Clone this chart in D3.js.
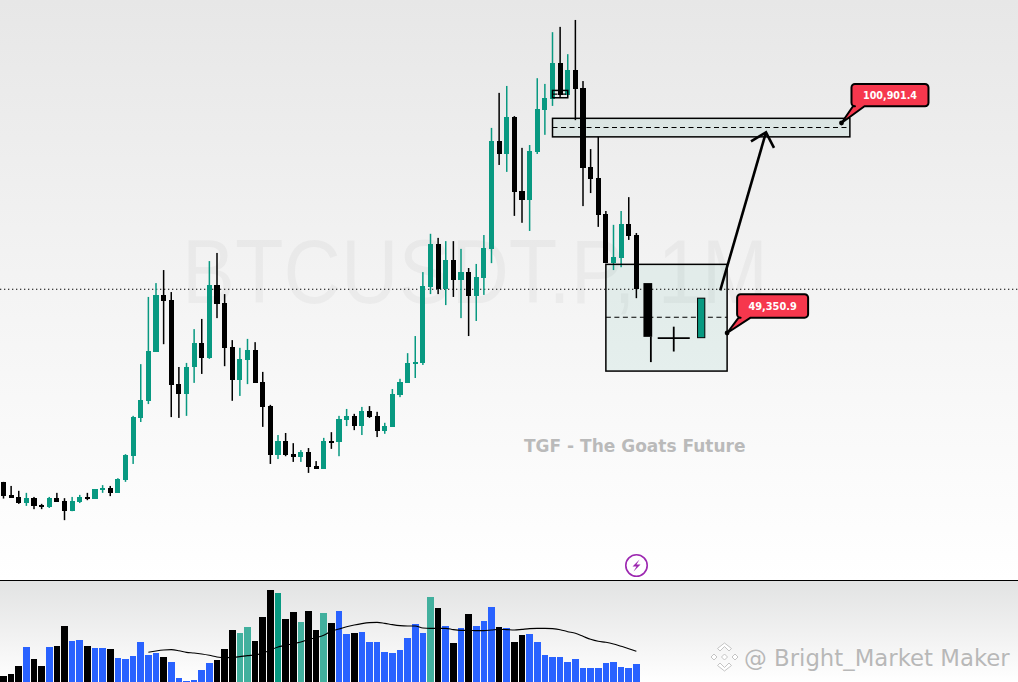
<!DOCTYPE html>
<html><head><meta charset="utf-8">
<style>html,body{margin:0;padding:0;background:#fff;overflow:hidden}svg{display:block}</style>
<script src="https://cdn.jsdelivr.net/npm/d3@7/dist/d3.min.js"></script></head>
<body><svg id="c" width="1018" height="682"></svg>
<script>
// Prices in thousands of USD, one entry per monthly candle
const opens=[12.8,9.6,9.1,7.6,8.8,7.1,6.6,8.8,8.1,5.6,7.9,9.1,8.6,10.8,11.3,10.1,13.3,19.1,28.5,32.7,44.7,58.7,57.4,36.8,34.4,41.0,46.9,43.2,61.1,56.7,45.9,37.8,42.7,45.2,37.3,31.4,19.4,22.8,19.6,18.9,20.1,16.7,16.0,22.8,22.6,28.0,29.0,26.5,30.2,29.0,25.3,26.3,34.1,37.1,41.7,42.0,60.6,71.2,60.1,67.3,62.4,64.3,58.4,62.8,70.0,96.5,93.3,102.4,84.2,82.0,93.8,104.1,106.8,115.6,107.8,113.9,109.5,90.1,87.4,78.6,66.5,67.8,76.1,73.4];
const closes=[9.4,8.9,7.6,8.8,6.9,6.6,8.8,7.9,5.6,8.1,9.1,8.6,11.0,11.3,10.1,13.5,19.4,28.7,32.9,44.9,58.7,57.2,36.6,34.4,41.0,46.9,43.2,61.1,56.5,45.7,37.8,43.0,45.2,37.1,31.2,19.4,22.8,19.4,18.9,20.1,16.4,16.0,22.8,22.6,28.2,29.0,26.5,30.2,28.7,25.3,26.5,34.4,37.3,42.0,42.2,60.9,71.2,60.1,67.3,62.4,64.3,58.4,63.1,70.2,96.5,93.3,102.4,84.0,82.0,94.0,104.3,107.0,115.6,107.8,113.9,109.2,89.9,87.2,78.3,66.5,68.0,76.1,73.2,60.1];
const highs=[12.8,11.8,10.6,10.1,9.1,7.4,9.1,10.1,8.8,9.1,9.6,10.1,11.0,12.0,11.8,13.7,19.6,29.0,41.7,58.2,61.6,64.8,59.4,41.0,42.0,50.3,52.8,67.0,69.0,58.9,47.6,45.7,47.9,47.1,39.8,31.7,24.3,24.8,22.3,20.6,21.1,17.9,23.6,25.0,29.0,30.7,29.5,31.2,31.4,30.0,27.3,35.6,38.1,44.4,48.6,64.3,73.7,72.7,71.9,71.9,70.0,65.3,66.3,73.4,99.7,108.3,110.0,102.6,94.8,95.5,111.9,110.5,123.2,124.5,117.8,126.2,111.2,94.5,97.5,79.3,75.9,79.3,82.7,73.9];
const lows=[8.7,8.9,7.4,6.9,6.1,6.1,6.4,7.9,3.4,5.6,7.6,8.3,8.6,10.1,9.3,10.1,12.8,17.2,27.5,31.9,44.7,46.6,28.7,28.5,29.0,37.1,39.3,43.0,53.0,41.2,32.7,33.9,36.8,37.1,26.3,17.2,18.4,19.1,17.7,17.7,15.0,16.0,16.0,20.9,19.1,26.5,25.5,24.3,28.5,23.8,24.6,26.3,33.6,37.1,38.3,41.5,58.9,58.9,56.2,58.2,53.0,48.6,52.3,58.7,66.5,90.6,88.9,78.1,76.4,74.4,93.3,98.0,105.1,107.3,107.8,101.6,80.5,83.7,75.4,66.5,64.8,65.5,72.2,57.9];
// Volume pane
const volumes=[18,24,48,105,69,48,105,108,168,123,126,108,102,102,99,72,69,78,120,81,87,75,60,12,3,6,36,57,66,99,156,147,165,123,195,276,267,189,210,180,213,156,207,177,213,144,147,150,120,120,90,87,96,132,174,147,255,222,168,117,162,204,168,183,225,165,162,120,141,144,120,81,75,75,60,69,42,42,42,57,60,45,42,54];
const volumeKinds="kkkbkkbkkbbkbbkbbbbbbkbbbbbbkkkttkkkTkktkktkbbkbbbbbbbbbtkbkbkbbbkbkkbbbbbbbbbbbbbbb".split("");
const maStart=19;
const volumeMA=[89,93,96,97,94,89,87,84,80,75,73,74,76,79,81,86,96,105,110,115,120,128,133,140,153,159,166,171,175,178,179,176,172,169,168,168,162,161,161,161,157,155,155,154,154,156,158,157,156,158,160,161,161,160,157,151,146,137,128,122,119,114,107,100,92];
// Projected candles inside the lower box
const projected=[
 {i:84.5,o:61.6,c:48.4,w:1.15},
 {i:91.5,o:48.2,c:57.9,w:0.95}];
const projectedWick={i:84.9,top:48.4,bottom:42.2};
const cross={i:87.9,half:2.1,price:48.1,high:50.9,low:44.8};
// Zones and annotations
const lowerZone={from:79,to:94.9,top:66.2,bottom:40.0,mid:53.2};
const upperZone={from:72,to:111,top:102.05,bottom:97.5,mid:99.8};
const smallZone={from:72,to:74,top:108.9,bottom:107.1,mid:108.0};
const levelLine=60.07;
const arrow={i0:94,p0:59.8,i1:100,p1:98.6};
const targets=[{i:109.9,price:100.9014,text:"100,901.4"},{i:94.9,price:49.3509,text:"49,350.9"}];
const titleText="BTCUSDT.P, 1M", brandText="TGF - The Goats Future", creditText="@ Bright_Market Maker";

const GREEN="#089981",BLUE="#2962ff",LIGHT="#42b09e",RED="#f6374d";
const svg=d3.select("#c");
const x=d3.scaleLinear().domain([0,100]).range([3.5,766]);
const y=d3.scaleLinear().domain([0,131.1]).range([534,0]);
const vy=d3.scaleLinear().domain([0,276]).range([682,590]);

const defs=svg.append("defs");
function grad(id,stops){const g=defs.append("linearGradient").attr("id",id).attr("x1",0).attr("x2",0).attr("y1",0).attr("y2",1);
 stops.forEach(s=>g.append("stop").attr("offset",s[0]).attr("stop-color",s[1]));}
grad("bgTop",[[0,"#e7e7e7"],[0.55,"#f5f5f5"],[1,"#ffffff"]]);
grad("bgVol",[[0,"#e2e3e3"],[0.6,"#f3f3f3"],[1,"#ffffff"]]);
svg.append("rect").attr("width",1018).attr("height",581).attr("fill","url(#bgTop)");
svg.append("rect").attr("y",581).attr("width",1018).attr("height",101).attr("fill","url(#bgVol)");

// Watermark
svg.append("text").attr("x",182).attr("y",303)
 .attr("textLength",586).attr("lengthAdjust","spacingAndGlyphs")
 .attr("font-family","'Liberation Sans',sans-serif").attr("font-size",91)
 .attr("fill","#000").attr("fill-opacity",0.035).text(titleText);

// Zones
[upperZone,lowerZone].forEach(z=>{
 svg.append("rect").attr("x",x(z.from)).attr("y",y(z.top)).attr("width",x(z.to)-x(z.from)).attr("height",y(z.bottom)-y(z.top))
  .attr("fill","rgb(30,156,131)").attr("fill-opacity",0.08).attr("stroke","none");
});

// Level line
svg.append("line").attr("x1",0).attr("x2",1018).attr("y1",y(levelLine)).attr("y2",y(levelLine))
 .attr("stroke","#000").attr("stroke-width",1.1).attr("stroke-dasharray","1.3 2.7");

// Candles
const idx=d3.range(opens.length);
const col=i=>closes[i]>=opens[i]?GREEN:"#000";
svg.append("g").selectAll("rect.w").data(idx).join("rect")
 .attr("x",i=>x(i)-0.75).attr("width",1.5).attr("y",i=>y(highs[i])).attr("height",i=>y(lows[i])-y(highs[i])).attr("fill",col);
svg.append("g").attr("shape-rendering","crispEdges").selectAll("rect.b").data(idx).join("rect")
 .attr("x",i=>x(i)-2.6).attr("width",5.2)
 .attr("y",i=>y(Math.max(opens[i],closes[i])))
 .attr("height",i=>Math.max(1.5,Math.abs(y(opens[i])-y(closes[i])))).attr("fill",col);

// Zone outlines and dashed mid lines
[upperZone,lowerZone,smallZone].forEach(z=>{
 const g=svg.append("g");
 g.append("rect").attr("x",x(z.from)).attr("y",y(z.top)).attr("width",x(z.to)-x(z.from)).attr("height",y(z.bottom)-y(z.top))
  .attr("fill","none").attr("stroke","#000").attr("stroke-width",1.5);
 g.append("line").attr("x1",x(z.from)).attr("x2",x(z.to)).attr("y1",y(z.mid)).attr("y2",y(z.mid))
  .attr("stroke","#000").attr("stroke-width",1.1).attr("stroke-dasharray","5 3.5");
});

// Projected candles
svg.append("rect").attr("x",x(projectedWick.i)-0.9).attr("width",1.8).attr("y",y(projectedWick.top)).attr("height",y(projectedWick.bottom)-y(projectedWick.top)).attr("fill","#000");
projected.forEach(p=>{
 const w=x(p.w)-x(0);
 svg.append("rect").attr("x",x(p.i)-w/2).attr("width",w).attr("y",y(Math.max(p.o,p.c))).attr("height",Math.abs(y(p.o)-y(p.c)))
  .attr("fill",p.c>p.o?GREEN:"#000").attr("stroke",p.c>p.o?"#000":"none").attr("stroke-width",1);
});
const cw=x(cross.half)-x(0);
svg.append("line").attr("x1",x(cross.i)-cw).attr("x2",x(cross.i)+cw).attr("y1",y(cross.price)).attr("y2",y(cross.price)).attr("stroke","#000").attr("stroke-width",1.8);
svg.append("line").attr("x1",x(cross.i)).attr("x2",x(cross.i)).attr("y1",y(cross.high)).attr("y2",y(cross.low)).attr("stroke","#000").attr("stroke-width",1.8);

// Arrow
const ax0=x(arrow.i0),ay0=y(arrow.p0),ax1=x(arrow.i1),ay1=y(arrow.p1);
const arrowLine=d3.line();
svg.append("path").attr("d",arrowLine([[ax0,ay0],[ax1,ay1]])).attr("fill","none").attr("stroke","#000").attr("stroke-width",2.6);
svg.append("path").attr("d",arrowLine([[ax1-15,ay1+9],[ax1,ay1],[ax1+8,ay1+15.5]])).attr("fill","none").attr("stroke","#000").attr("stroke-width",2.6);

// Callouts
function callout(t,i){
 const px=x(t.i),py=y(t.price);
 const w=i===0?77:71,h=i===0?22.3:23.4;
 const bx=px+10,by=py-(i===0?39:38.7),r=3.5;
 const tailA=bx+1.5,tailB=bx+(i===0?13:13.5);
 const p=d3.path();
 p.moveTo(bx+r,by);p.lineTo(bx+w-r,by);p.arcTo(bx+w,by,bx+w,by+r,r);
 p.lineTo(bx+w,by+h-r);p.arcTo(bx+w,by+h,bx+w-r,by+h,r);
 p.lineTo(tailB,by+h);p.lineTo(px,py);p.lineTo(tailA,by+h);p.lineTo(bx+r,by+h);
 p.arcTo(bx,by+h,bx,by+h-r,r);p.lineTo(bx,by+r);p.arcTo(bx,by,bx+r,by,r);p.closePath();
 svg.append("path").attr("d",p.toString()).attr("fill",RED).attr("stroke","#000").attr("stroke-width",2).attr("stroke-linejoin","round");
 svg.append("circle").attr("cx",px).attr("cy",py).attr("r",2.4).attr("fill","#000");
 svg.append("text").attr("x",bx+w/2).attr("y",by+h/2+3.6).attr("text-anchor","middle").attr("fill","#fff")
  .attr("font-family","'DejaVu Sans',sans-serif").attr("font-weight","bold").attr("font-size",i===0?9.6:9.8).text(t.text);
}
targets.forEach(callout);

// Brand text
svg.append("text").attr("x",524).attr("y",452).attr("font-family","'DejaVu Sans',sans-serif").attr("font-weight","bold")
 .attr("font-size",17).attr("fill","#bababa").text(brandText);

// Lightning icon
svg.append("circle").attr("cx",636.5).attr("cy",565.5).attr("r",10.7).attr("fill","#fff").attr("stroke","#9c27b0").attr("stroke-width",1.6);
svg.append("path").attr("d","M639.5 559.5 L632.5 566.5 L636.5 566.5 L633.5 571.5 L640.5 564.5 L636.5 564.5 Z").attr("fill","#9c27b0");

// Volume pane
svg.append("line").attr("x1",0).attr("x2",1018).attr("y1",580.5).attr("y2",580.5).attr("stroke","#000").attr("stroke-width",1.2);
const vcol={k:"#000",b:BLUE,t:LIGHT,T:GREEN};
svg.append("g").attr("shape-rendering","crispEdges").selectAll("rect").data(idx).join("rect")
 .attr("x",i=>x(i)-3.3).attr("width",6.6).attr("y",i=>vy(volumes[i])).attr("height",i=>682-vy(volumes[i])).attr("fill",i=>vcol[volumeKinds[i]]);
const maLine=d3.line().x((d,k)=>x(maStart+k)).y(d=>vy(d)).curve(d3.curveMonotoneX);
svg.append("path").attr("d",maLine(volumeMA)).attr("fill","none").attr("stroke","#000").attr("stroke-width",1.1);

// Credit watermark
const logo=svg.append("g").attr("transform","translate(724.5,657)").attr("fill","#fff").attr("stroke","#bdbdbd").attr("stroke-width",0.9);
logo.append("path").attr("d","M-4.5 -6 L0 -10.5 L4.5 -6 L7 -8.5 L0 -14 L-7 -8.5 Z");
logo.append("path").attr("d","M-4.5 6 L0 10.5 L4.5 6 L7 8.5 L0 14 L-7 8.5 Z");
logo.append("path").attr("d","M-13.5 0 L-10.5 -3 L-7.5 0 L-10.5 3 Z");
logo.append("path").attr("d","M13.5 0 L10.5 -3 L7.5 0 L10.5 3 Z");
logo.append("path").attr("d","M-3 0 L0 -3 L3 0 L0 3 Z");
svg.append("text").attr("x",744).attr("y",665.5).attr("font-family","'DejaVu Sans',sans-serif").attr("font-size",22.8)
 .attr("fill","#b8b8b8").attr("stroke","#fff").attr("stroke-width",0.4).attr("paint-order","stroke").text(creditText);
</script></body></html>
